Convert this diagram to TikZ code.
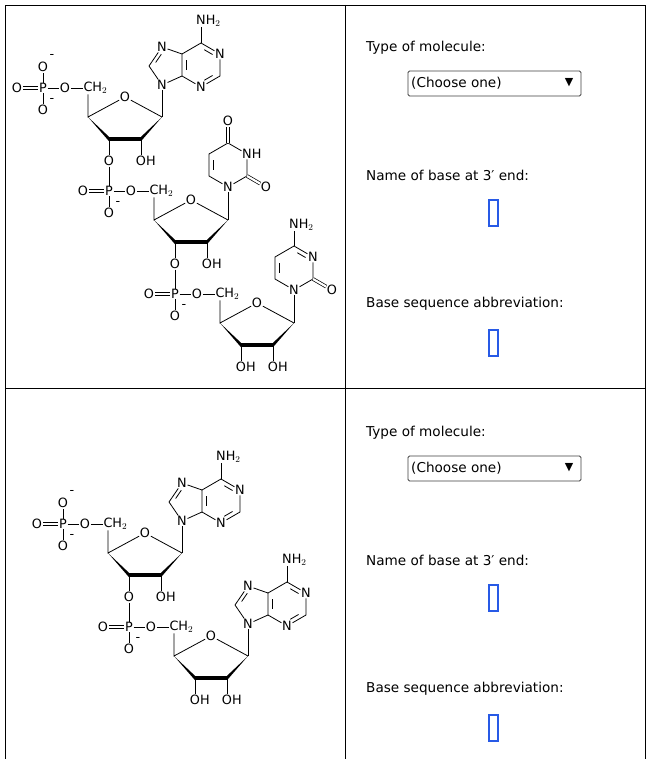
\documentclass[tikz,border=0pt]{standalone}
\usepackage{fontspec}
\setmainfont{DejaVu Sans}
\usetikzlibrary{calc}
\newcommand\chemfont{\fontsize{12.8}{13}\selectfont}
\newcommand\uifont{\fontsize{13.6}{16}\selectfont}
\tikzset{
 atom/.style={font=\chemfont, inner sep=0.6pt},
 chg/.style={font=\chemfont, inner sep=0pt},
 bond/.style={line width=0.8pt},
 dbond/.style={double, double distance=2.2pt, line width=0.7pt},
 ui/.style={font=\uifont, anchor=west, inner sep=0pt},
 ansbox/.style={draw={rgb,255:red,40;green,90;blue,230}, line width=1.1pt},
}
\newcommand\innerdbl[3]{\draw[bond] ($(#1)!0.22!(#2)!0.22!(#3)$) -- ($(#1)!0.78!(#2)!0.22!(#3)$);}
\newcommand\sugar[3]{%
 \coordinate (#1c4) at (#2,#3);
 \coordinate (#1c1) at (#2+74,#3);
 \coordinate (#1c2) at (#2+53,#3+22);
 \coordinate (#1c3) at (#2+21,#3+22);
 \node[atom] (#1o) at (#2+37,#3-20) {O};
 \node[atom] (#1ch) at (#2,#3-29) {C\rlap{H$_2$}};
 \node[atom] (#1o5) at (#2-23,#3-29) {O};
 \node[atom] (#1p) at (#2-45,#3-29) {P};
 \node[atom] (#1od) at (#2-71,#3-29) {O};
 \node[atom] (#1ob) at (#2-45,#3-7) {O};
 \node[chg] (#1mb) at (#2-36,#3-17) {-};
 \draw[bond] (#1ch) -- (#1c4) -- (#1o) -- (#1c1);
 \draw[bond] (#1o5) -- (#1ch);
 \draw[bond] (#1p) -- (#1o5);
 \draw[bond] (#1p) -- (#1ob);
 \draw[dbond] (#1od) -- (#1p);
 \fill (#1c4) -- ($(#1c3)+(0,2.2)$) -- ($(#1c3)+(0,-2.2)$) -- cycle;
 \draw[line width=4.4pt] (#1c3) -- (#1c2);
 \fill (#1c1) -- ($(#1c2)+(0,2.2)$) -- ($(#1c2)+(0,-2.2)$) -- cycle;
 \node[atom] (#1o2) at (#2+53,#3+44) {O\rlap{H}};
 \draw[bond] (#1c2) -- (#1o2);
}
\newcommand\topO[3]{%
 \node[atom] (#1ot) at (#2-45,#3-50) {O};
 \node[chg] (#1mt) at (#2-36,#3-61) {-};
 \draw[bond] (#1p) -- (#1ot);
}
\newcommand\adenine[3]{%
 \node[atom] (#1n9) at (#2,#3-32) {N};
 \coordinate (#1c4b) at (#2+20,#3-41);
 \coordinate (#1c5b) at (#2+20,#3-63);
 \node[atom] (#1n7) at (#2,#3-70) {N};
 \coordinate (#1c8) at (#2-13,#3-51);
 \coordinate (#1c6) at (#2+39,#3-74);
 \node[atom] (#1nh) at (#2+39,#3-96) {N\rlap{H$_2$}};
 \node[atom] (#1n1) at (#2+58,#3-63) {N};
 \coordinate (#1c2b) at (#2+58,#3-41);
 \node[atom] (#1n3) at (#2+39,#3-30) {N};
 \coordinate (#1hc) at (#2+39,#3-52);
 \coordinate (#1pc) at (#2+7,#3-52);
 \draw[bond] (#1c1) -- (#1n9);
 \draw[bond] (#1n9) -- (#1c4b) -- (#1c5b) -- (#1n7) -- (#1c8) -- (#1n9);
 \draw[bond] (#1c5b) -- (#1c6) -- (#1n1) -- (#1c2b) -- (#1n3) -- (#1c4b);
 \draw[bond] (#1c6) -- (#1nh);
 \innerdbl{#1c8}{#1n7}{#1pc}
 \innerdbl{#1c4b}{#1c5b}{#1hc}
 \innerdbl{#1c6}{#1n1}{#1hc}
 \innerdbl{#1c2b}{#1n3}{#1hc}
}
\newcommand\pyring[3]{%
 \node[atom] (#1n1) at (#2,#3-33) {N};
 \coordinate (#1c2b) at (#2+19,#3-44);
 \node[atom] (#1o2b) at (#2+38,#3-33) {O};
 \coordinate (#1c4b) at (#2,#3-77);
 \coordinate (#1c5b) at (#2-19,#3-66);
 \coordinate (#1c6b) at (#2-19,#3-44);
 \coordinate (#1pc) at (#2,#3-55);
 \draw[bond] (#1c1) -- (#1n1);
 \draw[bond] (#1n1) -- (#1c2b) -- (#1n3) -- (#1c4b) -- (#1c5b) -- (#1c6b) -- (#1n1);
 \draw[dbond] (#1c2b) -- (#1o2b);
 \innerdbl{#1c5b}{#1c6b}{#1pc}
}
\begin{document}
\begin{tikzpicture}[x=1pt,y=-1pt]
\useasboundingbox (0,0) rectangle (660,759);
\fill[white] (0,0) rectangle (660,759);
% table
\draw[line width=0.9pt] (5,759) -- (5,5) -- (645,5) -- (645,759);
\draw[line width=0.9pt] (345,5) -- (345,759);
\draw[line width=0.9pt] (5,388) -- (645,388);

% ---- top molecule
\sugar{a}{88}{117}
\topO{a}{88}{117}
\node[atom] (ao3) at (109,161) {O};
\draw[bond] (ac3) -- (ao3);
\sugar{b}{154}{220}
\draw[bond] (ao3) -- (bp);
\node[atom] (bo3) at (175,264) {O};
\draw[bond] (bc3) -- (bo3);
\sugar{c}{220}{323}
\draw[bond] (bo3) -- (cp);
\node[atom] (co3) at (241,367) {O\rlap{H}};
\draw[bond] (cc3) -- (co3);
\adenine{a}{162}{117}
% uracil
\node[atom] (bn3) at (247,154) {N\rlap{H}};
\pyring{b}{228}{220}
\node[atom] (bo4) at (228,121) {O};
\draw[dbond] (bc4b) -- (bo4);
% cytosine
\node[atom] (cn3) at (313,257) {N};
\pyring{c}{294}{323}
\node[atom] (cnh) at (294,225) {N\rlap{H$_2$}};
\draw[bond] (cc4b) -- (cnh);
\innerdbl{cn3}{cc4b}{cpc}

% ---- bottom molecule
\sugar{d}{108}{553}
\topO{d}{108}{553}
\node[atom] (do3) at (129,597) {O};
\draw[bond] (dc3) -- (do3);
\sugar{e}{174}{656}
\draw[bond] (do3) -- (ep);
\node[atom] (eo3) at (195,700) {O\rlap{H}};
\draw[bond] (ec3) -- (eo3);
\adenine{d}{182}{553}
\adenine{e}{248}{656}

% ---- right panels
\foreach \dy/\nm in {0/p, 385/q}{
 \node[ui] (\nm t1) at (366,48+\dy) {Type of molecule:};
 \draw[black!75, line width=0.8pt, rounded corners=1.5pt] (408,71+\dy) rectangle (581,96+\dy);
 \node[ui] (\nm ch) at (411,83+\dy) {(Choose one)};
 \node[font=\fontsize{11}{12}\selectfont, inner sep=0pt] (\nm ar) at (569,83+\dy) {▼};
 \node[ui] (\nm t2) at (366,175+\dy) {Name of base at 3′ end:};
 \draw[ansbox] (489,200+\dy) rectangle (498,226+\dy);
 \node[ui] (\nm t3) at (366,304+\dy) {Base sequence abbreviation:};
 \draw[ansbox] (489,330+\dy) rectangle (498,356+\dy);
}
\end{tikzpicture}
\end{document}
